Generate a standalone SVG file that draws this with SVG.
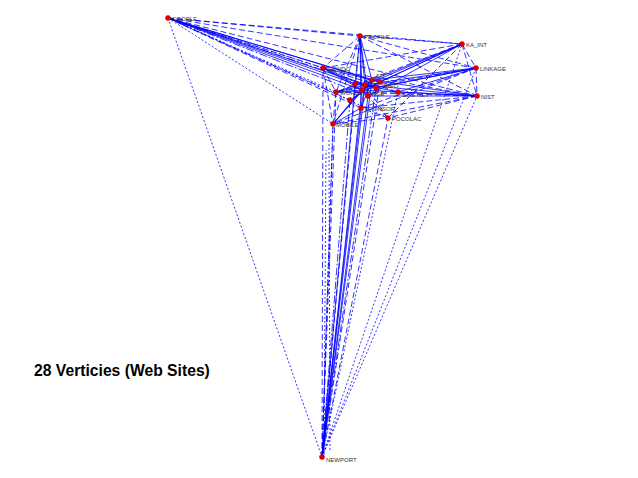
<svg xmlns="http://www.w3.org/2000/svg" width="638" height="478" viewBox="0 0 638 478">
<style>
.e{stroke:#0000ff;stroke-width:0.8;fill:none}
.d{stroke-dasharray:6 3}
.o{stroke-dasharray:2 2}
.s{stroke-dasharray:8 2 2 2}
.n circle{fill:#e00000;stroke:#a00000;stroke-width:0.5}
.n text{font-family:"Liberation Sans",sans-serif;font-size:6px;fill:#333}
.t{font-family:"Liberation Sans",Arial,sans-serif;font-size:15.7px;font-weight:bold;fill:#000}
</style>
<rect width="638" height="478" fill="#fff"/>
<g id="edges">
<path class="e" d="M168,18 L365,85 M168,18 L372,80 M168,18 L362,90 M168,18 L355,84 M168,18 L380,82"/>
<path class="e d" d="M168,18 L360,36 M168,18 L462,44 M168,18 L476,68 M168,18 L477,96 M168,18 L398,92 M168,18 L361,108"/>
<path class="e o" d="M168,18 L322,457 M168,18 L333,124 M168,18 L336,92 M168,18 L388,118 M168,18 L323,68"/>
<path class="e s" d="M168,18 L368,96 M168,18 L376,88 M168,18 L350,100"/>
<path class="e" d="M322,457 L365,85 M322,457 L362,90 M322,457 L372,80 M322,457 L361,108 M322,457 L368,96 M322,457 L355,84"/>
<path class="e d" d="M322,457 L333,124 M322,457 L336,92 M322,457 L323,68 M322,457 L360,36 M322,457 L388,118 M322,457 L380,82"/>
<path class="e o" d="M322,457 L462,44 M322,457 L476,68 M322,457 L477,96 M322,457 L398,92"/>
<path class="e s" d="M322,457 L350,100 M322,457 L376,88"/>
<path class="e" d="M360,36 L365,85 M360,36 L372,80 M360,36 L362,90 M360,36 L355,84 M360,36 L368,96 M360,36 L361,108"/>
<path class="e d" d="M360,36 L462,44 M360,36 L323,68 M360,36 L476,68 M360,36 L477,96 M360,36 L336,92 M360,36 L333,124"/>
<path class="e" d="M462,44 L365,85 M462,44 L372,80 M462,44 L362,90 M462,44 L380,82 M462,44 L368,96"/>
<path class="e d" d="M462,44 L476,68 M462,44 L477,96 M462,44 L336,92 M462,44 L323,68 M462,44 L388,118"/>
<path class="e" d="M476,68 L365,85 M476,68 L372,80 M476,68 L362,90 M476,68 L376,88 M476,68 L398,92"/>
<path class="e d" d="M476,68 L477,96 M476,68 L336,92 M476,68 L333,124 M476,68 L361,108"/>
<path class="e" d="M477,96 L365,85 M477,96 L372,80 M477,96 L362,90 M477,96 L398,92 M477,96 L368,96"/>
<path class="e d" d="M477,96 L336,92 M477,96 L333,124 M477,96 L388,118 M477,96 L361,108 M477,96 L323,68"/>
<path class="e" d="M323,68 L365,85 M323,68 L372,80 M323,68 L362,90 M323,68 L355,84 M336,92 L365,85 M336,92 L372,80 M336,92 L362,90"/>
<path class="e d" d="M323,68 L336,92 M323,68 L333,124 M336,92 L333,124 M336,92 L398,92"/>
<path class="e" d="M333,124 L365,85 M333,124 L362,90 M333,124 L372,80 M333,124 L361,108 M361,108 L365,85 M361,108 L372,80"/>
<path class="e d" d="M388,118 L365,85 M388,118 L362,90 M388,118 L361,108 M333,124 L388,118"/>
<path class="e" d="M365,85 L372,80 M372,80 L380,82 M362,90 L368,96 M355,84 L376,88 M365,85 L398,92 M350,100 L380,82"/>
<path class="e o" d="M322,457 L333,124 M324,455 L326,150 M330,450 L329,140"/>
</g>
<g id="n1" class="n"><circle cx="168" cy="18" r="2.5"/><text x="172" y="21">COOPLE</text></g>
<g id="n2" class="n"><circle cx="360" cy="36" r="2.5"/><text x="364" y="39">PROFILE</text></g>
<g id="n3" class="n"><circle cx="462" cy="44" r="2.5"/><text x="466" y="47">KA_INT</text></g>
<g id="n4" class="n"><circle cx="476" cy="68" r="2.5"/><text x="480" y="71">LINKAGE</text></g>
<g id="n5" class="n"><circle cx="477" cy="96" r="2.5"/><text x="481" y="99">NIST</text></g>
<g id="n6" class="n"><circle cx="323" cy="68" r="2.5"/><text x="328" y="71">CONDO</text></g>
<g id="n7" class="n"><circle cx="336" cy="92" r="2.5"/><text x="340" y="95">WORLD</text></g>
<g id="n8" class="n"><circle cx="333" cy="124" r="2.5"/><text x="336" y="127">MOBILE</text></g>
<g id="n9" class="n"><circle cx="388" cy="118" r="2.5"/><text x="392" y="121">POCOLAC</text></g>
<g id="n10" class="n"><circle cx="361" cy="108" r="2.5"/><text x="365" y="111">SPONSOR</text></g>
<g id="n11" class="n"><circle cx="355" cy="84" r="2.5"/></g>
<g id="n12" class="n"><circle cx="365" cy="85" r="2.5"/><text x="368" y="96">PAGE</text></g>
<g id="n13" class="n"><circle cx="372" cy="80" r="2.5"/><text x="376" y="78">SIT</text></g>
<g id="n14" class="n"><circle cx="380" cy="82" r="2.5"/><text x="384" y="88">INFO</text></g>
<g id="n15" class="n"><circle cx="362" cy="90" r="2.5"/></g>
<g id="n16" class="n"><circle cx="368" cy="96" r="2.5"/></g>
<g id="n17" class="n"><circle cx="376" cy="88" r="2.5"/></g>
<g id="n18" class="n"><circle cx="398" cy="92" r="2.5"/><text x="402" y="97">SITE NET</text></g>
<g id="n19" class="n"><circle cx="350" cy="100" r="2.5"/></g>
<g id="n20" class="n"><circle cx="322" cy="457" r="2.5"/><text x="326" y="462">NEWPORT</text></g>
<text class="t" x="34" y="376">28 Verticies (Web Sites)</text>
</svg>
